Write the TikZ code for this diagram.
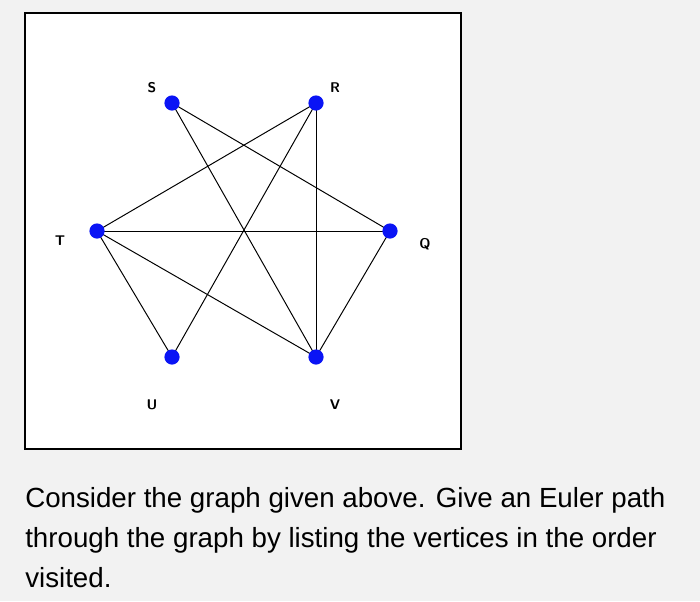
\documentclass[tikz,border=0pt]{standalone}
\usepackage{fontspec}
\setmainfont{Liberation Sans}
\usepackage{tikz}
\definecolor{pagegray}{HTML}{F2F2F2}
\definecolor{vblue}{HTML}{0A14F5}
\begin{document}
\begin{tikzpicture}[x=0.025cm,y=-0.025cm,
  vertex/.style = {circle, inner sep=0pt, minimum size=0.38cm},
  dot/.style = {fill=vblue},
  lab/.style = {font=\sffamily\bfseries\normalsize},
  edge/.style = {black, line width=0.7pt}
]
\fill[pagegray] (0,0) rectangle (700,601);
\useasboundingbox (0,0) rectangle (700,601);
\draw[fill=white, line width=0.9pt] (25,13) rectangle (461,449);

\node (S)[vertex] at (172,103) {};
\node (R)[vertex] at (316,103) {};
\node (T)[vertex] at (97,231) {};
\node (Q)[vertex] at (390,231) {};
\node (U)[vertex] at (172,357) {};
\node (V)[vertex] at (316,357) {};

\node (labS)[lab] at (152,88) {S};
\node (labR)[lab] at (335,88) {R};
\node (labT)[lab] at (60,241) {T};
\node (labQ)[lab] at (425,244) {Q};
\node (labU)[lab] at (152,405) {U};
\node (labV)[lab] at (335,405) {V};

\draw[edge] (S.center) -- (Q.center);
\draw[edge] (S.center) -- (V.center);
\draw[edge] (R.center) -- (T.center);
\draw[edge] (R.center) -- (U.center);
\draw[edge] (R.center) -- (V.center);
\draw[edge] (T.center) -- (Q.center);
\draw[edge] (T.center) -- (U.center);
\draw[edge] (T.center) -- (V.center);
\draw[edge] (Q.center) -- (V.center);

\foreach \v in {S,R,T,Q,U,V}
  \fill[dot] (\v.center) circle (0.19cm);

\node (question)[anchor=west, align=left,
  font=\fontsize{19.7}{28.4}\selectfont, inner sep=0pt] at (25,538)
  {Consider the graph given above. Give an Euler path\\
   through the graph by listing the vertices in the order\\
   visited.};
\end{tikzpicture}
\end{document}
